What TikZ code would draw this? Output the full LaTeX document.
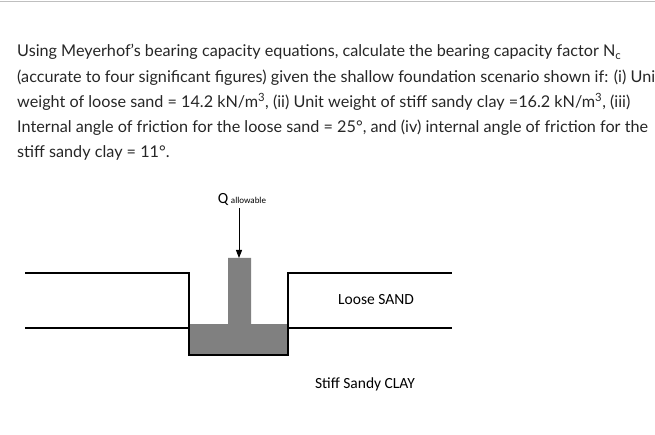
\documentclass[tikz,border=0pt]{standalone}
\usepackage{fontspec}
\setmainfont{Lato}
\newfontfamily\calfont{Carlito}
\usetikzlibrary{arrows.meta}
\begin{document}
\begin{tikzpicture}[x=1pt,y=-1pt,
  txt/.style={anchor=base west,inner sep=0,font=\fontsize{16.2}{18}\selectfont,text=black!85},
  ln/.style={line width=1.2pt},
  lbl/.style={font=\calfont\fontsize{15.5}{17}\selectfont}]
\useasboundingbox (0,0) rectangle (655,435);
\draw[black!25] (0,1) -- (655,1);
\node[txt] (l1) at (17,57) {Using Meyerhof's bearing capacity equations, calculate the bearing capacity factor N\textsubscript{c}};
\node[txt] (l2) at (17,83) {(accurate to four significant figures) given the shallow foundation scenario shown if: (i) Unit};
\node[txt] (l3) at (17,108) {weight of loose sand = 14.2 kN/m\textsuperscript{3}, (ii) Unit weight of stiff sandy clay =16.2 kN/m\textsuperscript{3}, (iii)};
\node[txt] (l4) at (17,133) {Internal angle of friction for the loose sand = 25\textdegree, and (iv) internal angle of friction for the};
\node[txt] (l5) at (17,158) {stiff sandy clay = 11\textdegree.};
% footing
\fill[black!50] (190,324) -- (228,324) -- (228,258) -- (251,258) -- (251,324) -- (287,324) -- (287,355) -- (190,355) -- cycle;
\draw[ln] (25,273) -- (189,273) -- (189,355) -- (288,355) -- (288,273) -- (452,273);
\draw[ln] (25,328) -- (189,328);
\draw[ln] (288,328) -- (452,328);
\node[lbl,anchor=south,inner sep=1pt] (q) at (242,207) {Q\,{\fontsize{9}{10}\selectfont allowable}};
\coordinate (top) at (239,258);
\draw[line width=1pt,-{Triangle[length=8pt,width=6pt]}] (239,208) -- (top);
\node[lbl] (sand) at (376,300) {Loose SAND};
\node[lbl] (clay) at (365,384) {Stiff Sandy CLAY};
\end{tikzpicture}
\end{document}
